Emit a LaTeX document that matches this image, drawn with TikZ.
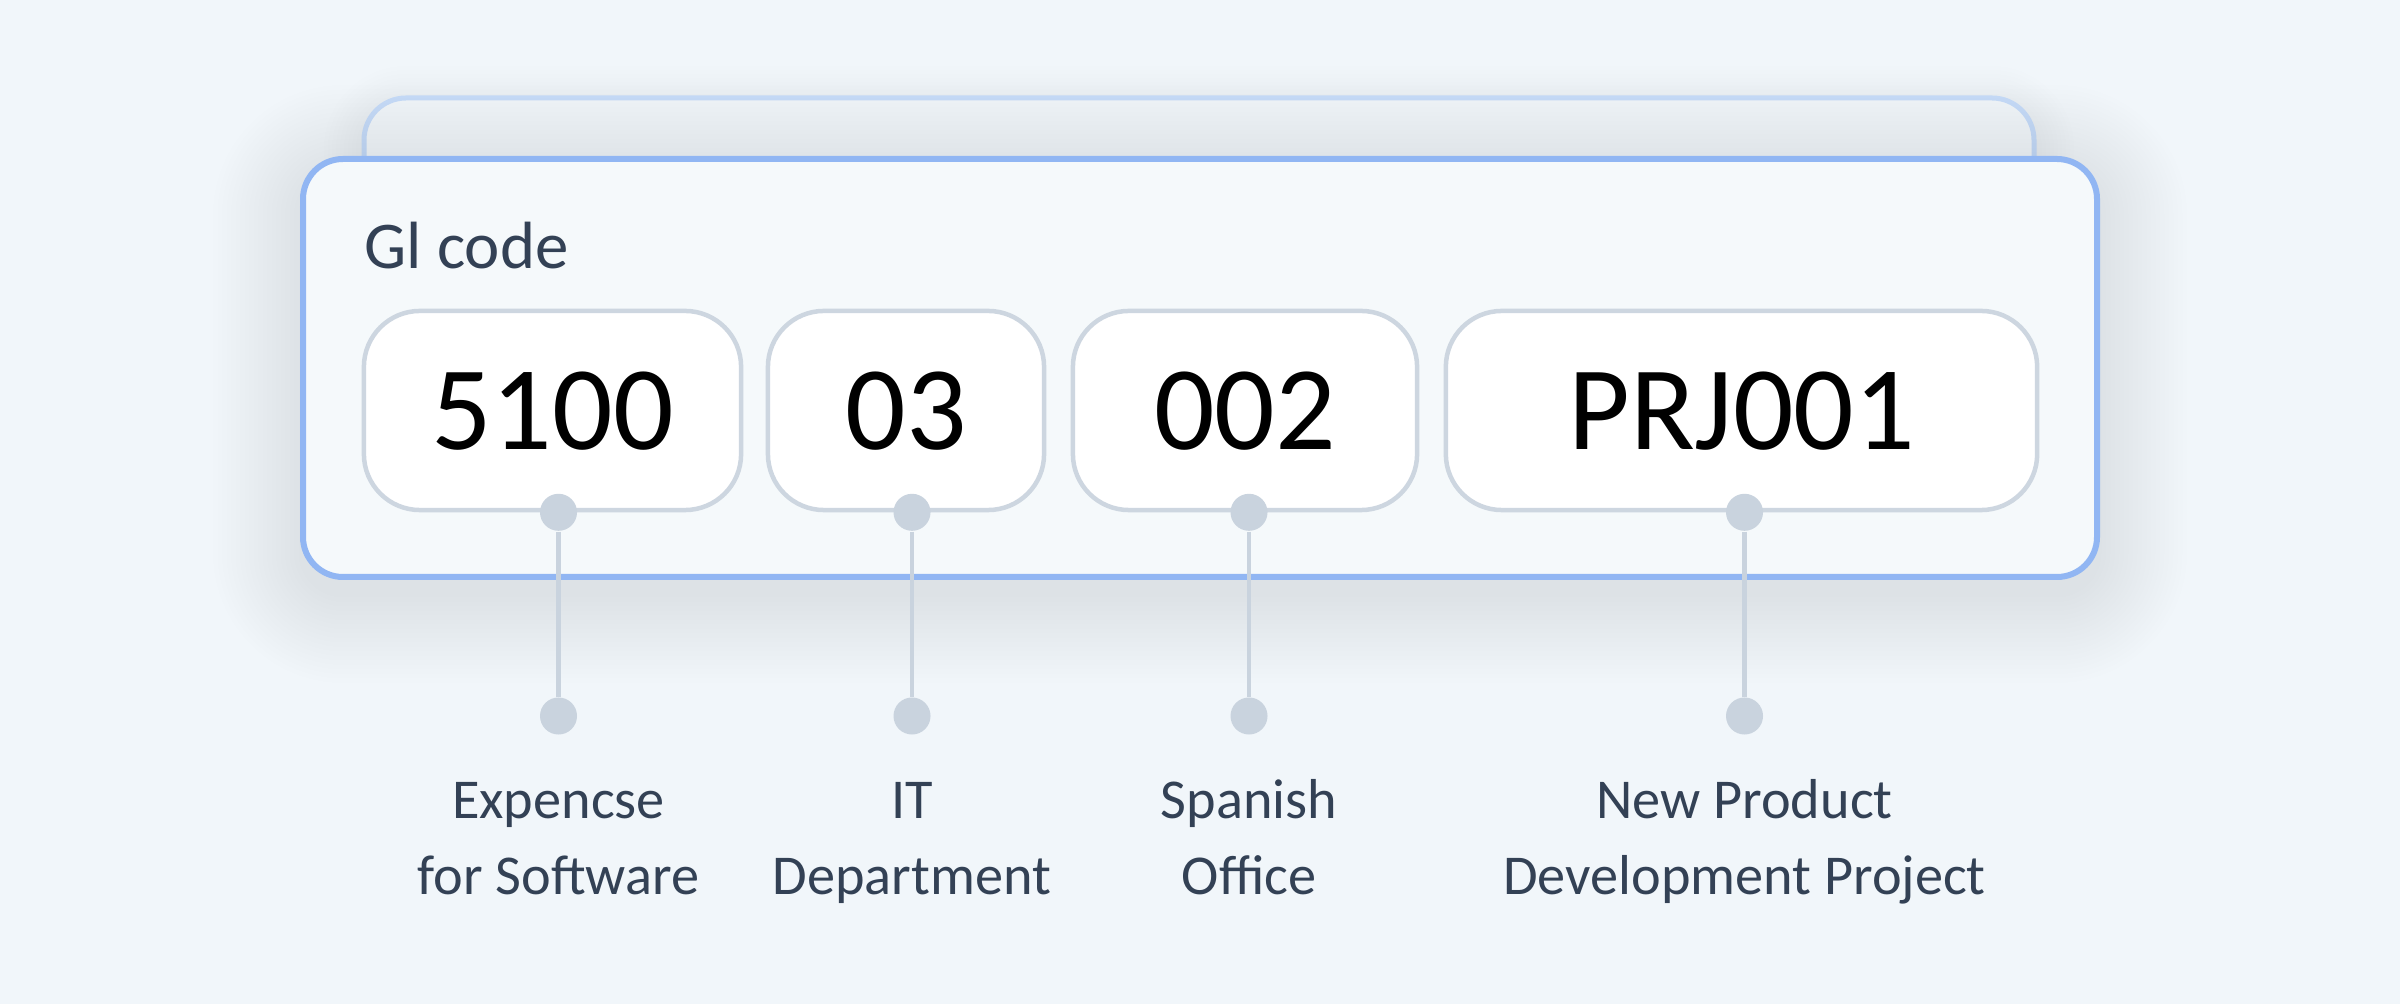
\documentclass[tikz,border=0pt]{standalone}
\usepackage{fontspec}
\setmainfont{Carlito}
\usetikzlibrary{positioning}

\definecolor{pagebg}{HTML}{F1F6FA}
\definecolor{cardfill}{HTML}{F5F9FB}
\definecolor{cardblue}{HTML}{91B6F3}
\definecolor{backfill}{HTML}{F0F5F9}
\definecolor{backblue}{HTML}{C6DBF8}
\definecolor{segline}{HTML}{CDD6E0}
\definecolor{pingray}{HTML}{C9D3DE}
\definecolor{labelink}{HTML}{334155}
\definecolor{shade}{HTML}{1E2B3C}

\begin{document}
\begin{tikzpicture} [x=0.01cm, y=-0.01cm,
            back card/.style={draw=backblue, line width=0.05cm, fill=backfill, rounded corners=0.42cm},
            card/.style={draw=cardblue, line width=0.06cm, fill=cardfill, rounded corners=0.4cm},
            soft shade/.style={fill=shade, opacity=0.0045},
            seg box/.style={draw=segline, line width=0.045cm, fill=white, rounded corners=0.56cm,
                minimum height=1.99cm, inner sep=0pt, text height=21.9pt, text depth=0pt,
                font=\fontsize{34}{40}\selectfont},
            pin dot/.style={circle, fill=pingray, inner sep=0pt, minimum size=0.37cm},
            pin line/.style={draw=pingray, line width=0.045cm},
            seg label/.style={text=labelink, align=center, anchor=base,
                font=\fontsize{16}{21.8}\selectfont}]

        \useasboundingbox[fill=pagebg] (0,0) rectangle (2400,1004);

        % cards and their soft shadow
        \foreach \k in {1,...,10}
            \fill[soft shade, rounded corners=0.42cm+\k*0.04cm] (364-\k*4,98-\k*4+8) rectangle (2034+\k*4,400);
        \draw[back card] (364,98) rectangle (2034,400);
        \foreach \k in {1,...,20}
            \fill[soft shade, rounded corners=0.4cm+\k*0.045cm] (303-\k*4.5,159-\k*4.5+16) rectangle (2097+\k*4.5,577+\k*4.5+16);
        \draw[card] (303,159) rectangle (2097,577);
        \node[text=labelink, anchor=base west, inner sep=0pt, font=\fontsize{19}{23}\selectfont] (title) at (364,269) {Gl code};

        % segments
        \node[seg box, minimum width=3.77cm] (seg-acct) at (552.5,410.5) {5100};
        \node[seg box, minimum width=2.76cm] (seg-dept) at (906,410.5) {03};
        \node[seg box, minimum width=3.44cm] (seg-loc) at (1245,410.5) {002};
        \node[seg box, minimum width=5.91cm] (seg-proj) at (1741.5,410.5) {PRJ001};

        % pins
        \node[pin dot, xshift=0.06cm] (acct-top) at (seg-acct.south) {};
        \node[pin dot] (acct-end) at (acct-top |- 0,716) {};
        \node[pin dot, xshift=0.06cm] (dept-top) at (seg-dept.south) {};
        \node[pin dot] (dept-end) at (dept-top |- 0,716) {};
        \node[pin dot, xshift=0.04cm] (loc-top) at (seg-loc.south) {};
        \node[pin dot] (loc-end) at (loc-top |- 0,716) {};
        \node[pin dot, xshift=0.03cm] (proj-top) at (seg-proj.south) {};
        \node[pin dot] (proj-end) at (proj-top |- 0,716) {};
        \draw[pin line] (acct-top) -- (acct-end);
        \draw[pin line] (dept-top) -- (dept-end);
        \draw[pin line] (loc-top) -- (loc-end);
        \draw[pin line] (proj-top) -- (proj-end);

        % labels
        \node[seg label] (acct-label) at (acct-end |- 0,895) {Expencse\\for Software};
        \node[seg label] (dept-label) at (dept-end |- 0,895) {IT\\Department};
        \node[seg label] (loc-label) at (loc-end |- 0,895) {Spanish\\Office};
        \node[seg label] (proj-label) at (proj-end |- 0,895) {New Product\\Development Project};
    \end{tikzpicture}
\end{document}
